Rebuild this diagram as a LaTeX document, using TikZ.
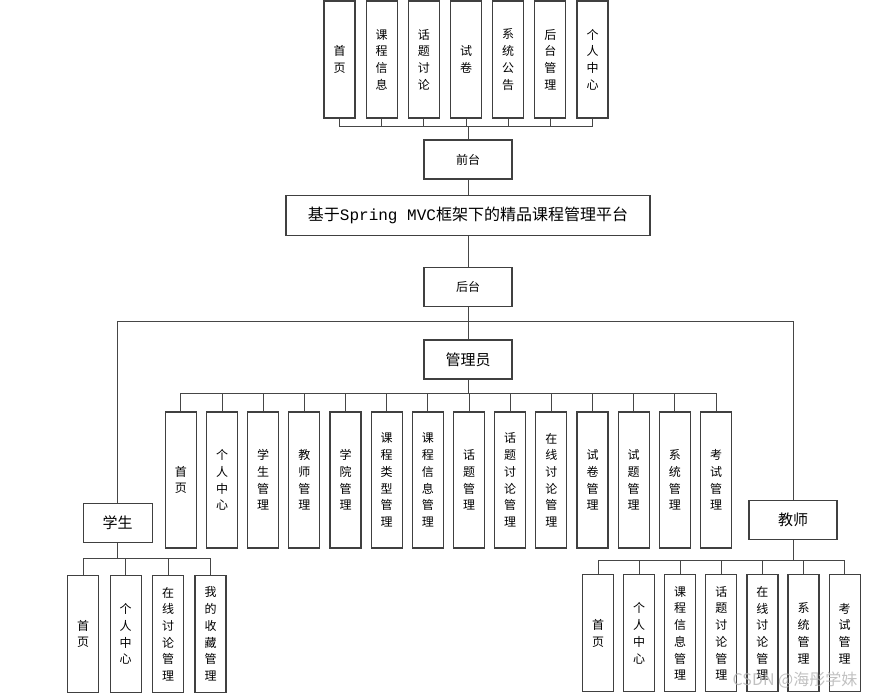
\documentclass[tikz,border=0pt]{standalone}
\usepackage{fontspec}
\newfontfamily\cjk{Noto Sans CJK SC}
\newfontfamily\latinmono{Liberation Mono}
\definecolor{boxgray}{RGB}{64,64,64}
\definecolor{linegray}{RGB}{70,70,70}
\tikzset{
  every node/.style={font=\cjk},
  box/.style={draw=boxgray, line width=1.2pt, fill=white, inner sep=0pt, align=center},
  tallbox/.style={box, minimum width=31, minimum height=117, font=\cjk\fontsize{12}{16.7}\selectfont},
  adminbox/.style={tallbox, minimum height=136},
  smallbox/.style={box, minimum width=88, minimum height=39, font=\cjk\fontsize{12}{14}\selectfont},
  rolebox/.style={box, minimum height=39, font=\cjk\fontsize{15}{17}\selectfont},
  link/.style={draw=linegray, line width=1pt}
}
\begin{document}
\begin{tikzpicture}[x=1pt, y=-1pt]
    \useasboundingbox (0,0) rectangle (880,699);

    % 前台的功能模块
    \node[tallbox] (t1) at (339.5,59.5) {首\\页};
    \node[tallbox] (t2) at (381.7,59.5) {课\\程\\信\\息};
    \node[tallbox] (t3) at (423.8,59.5) {话\\题\\讨\\论};
    \node[tallbox] (t4) at (466.0,59.5) {试\\卷};
    \node[tallbox] (t5) at (508.2,59.5) {系\\统\\公\\告};
    \node[tallbox] (t6) at (550.3,59.5) {后\\台\\管\\理};
    \node[tallbox] (t7) at (592.5,59.5) {个\\人\\中\\心};

    % 中间的主干
    \node[smallbox] (qiantai) at (468,159.5) {前台};
    \node[box, minimum width=364, minimum height=39.5, font=\cjk\fontsize{16}{18}\selectfont] (platform) at (468,215.5)
        {基于{\latinmono Spring MVC}框架下的精品课程管理平台};
    \node[smallbox] (houtai) at (468,287) {后台};
    \node[rolebox, minimum width=88] (admin) at (468,359.5) {管理员};
    \node[rolebox, minimum width=69] (student) at (117.7,523) {学生};
    \node[rolebox, minimum width=88] (teacher) at (793,520) {教师};

    % 管理员的功能模块
    \node[adminbox] (a1) at (180.8,480) {首\\页};
    \node[adminbox] (a2) at (222.0,480) {个\\人\\中\\心};
    \node[adminbox] (a3) at (263.1,480) {学\\生\\管\\理};
    \node[adminbox] (a4) at (304.3,480) {教\\师\\管\\理};
    \node[adminbox] (a5) at (345.5,480) {学\\院\\管\\理};
    \node[adminbox] (a6) at (386.7,480) {课\\程\\类\\型\\管\\理};
    \node[adminbox] (a7) at (427.8,480) {课\\程\\信\\息\\管\\理};
    \node[adminbox] (a8) at (469.0,480) {话\\题\\管\\理};
    \node[adminbox] (a9) at (510.2,480) {话\\题\\讨\\论\\管\\理};
    \node[adminbox] (a10) at (551.3,480) {在\\线\\讨\\论\\管\\理};
    \node[adminbox] (a11) at (592.5,480) {试\\卷\\管\\理};
    \node[adminbox] (a12) at (633.7,480) {试\\题\\管\\理};
    \node[adminbox] (a13) at (674.9,480) {系\\统\\管\\理};
    \node[adminbox] (a14) at (716.0,480) {考\\试\\管\\理};

    % 学生的功能模块
    \node[tallbox] (s1) at (83.2,634) {首\\页};
    \node[tallbox] (s2) at (125.6,634) {个\\人\\中\\心};
    \node[tallbox] (s3) at (168.0,634) {在\\线\\讨\\论\\管\\理};
    \node[tallbox] (s4) at (210.5,634) {我\\的\\收\\藏\\管\\理};

    % 教师的功能模块
    \node[tallbox] (j1) at (598.0,633.3) {首\\页};
    \node[tallbox] (j2) at (639.1,633.3) {个\\人\\中\\心};
    \node[tallbox] (j3) at (680.2,633.3) {课\\程\\信\\息\\管\\理};
    \node[tallbox] (j4) at (721.3,633.3) {话\\题\\讨\\论\\管\\理};
    \node[tallbox] (j5) at (762.4,633.3) {在\\线\\讨\\论\\管\\理};
    \node[tallbox] (j6) at (803.5,633.3) {系\\统\\管\\理};
    \node[tallbox] (j7) at (844.6,633.3) {考\\试\\管\\理};

    % 连线的汇合点
    \coordinate (topbus) at (468,126);
    \coordinate (split) at (468,321.7);
    \coordinate (adminbus) at (468,393.3);
    \coordinate (studentbus) at (117.7,558.3);
    \coordinate (teacherbus) at (793,560);

    % 连线
    \begin{scope}[on background layer/.try]
    \foreach \i in {1,...,7} \draw[link] (t\i.south) |- (topbus);
    \draw[link] (topbus) -- (qiantai.north);
    \draw[link] (qiantai.south) -- (platform.north);
    \draw[link] (platform.south) -- (houtai.north);
    \draw[link] (houtai.south) -- (admin.north);
    \draw[link] (student.north) |- (split) -| (teacher.north);
    \foreach \i in {1,...,14} \draw[link] (a\i.north) |- (adminbus);
    \draw[link] (admin.south) -- (adminbus);
    \foreach \i in {1,...,4} \draw[link] (s\i.north) |- (studentbus);
    \draw[link] (student.south) -- (studentbus);
    \foreach \i in {1,...,7} \draw[link] (j\i.north) |- (teacherbus);
    \draw[link] (teacher.south) -- (teacherbus);
    \end{scope}

    % 水印
    \node[text=gray!60, opacity=0.8, font=\cjk\fontsize{16}{18}\selectfont] (watermark) at (795,680) {CSDN @海彤学妹};

\end{tikzpicture}
\end{document}
